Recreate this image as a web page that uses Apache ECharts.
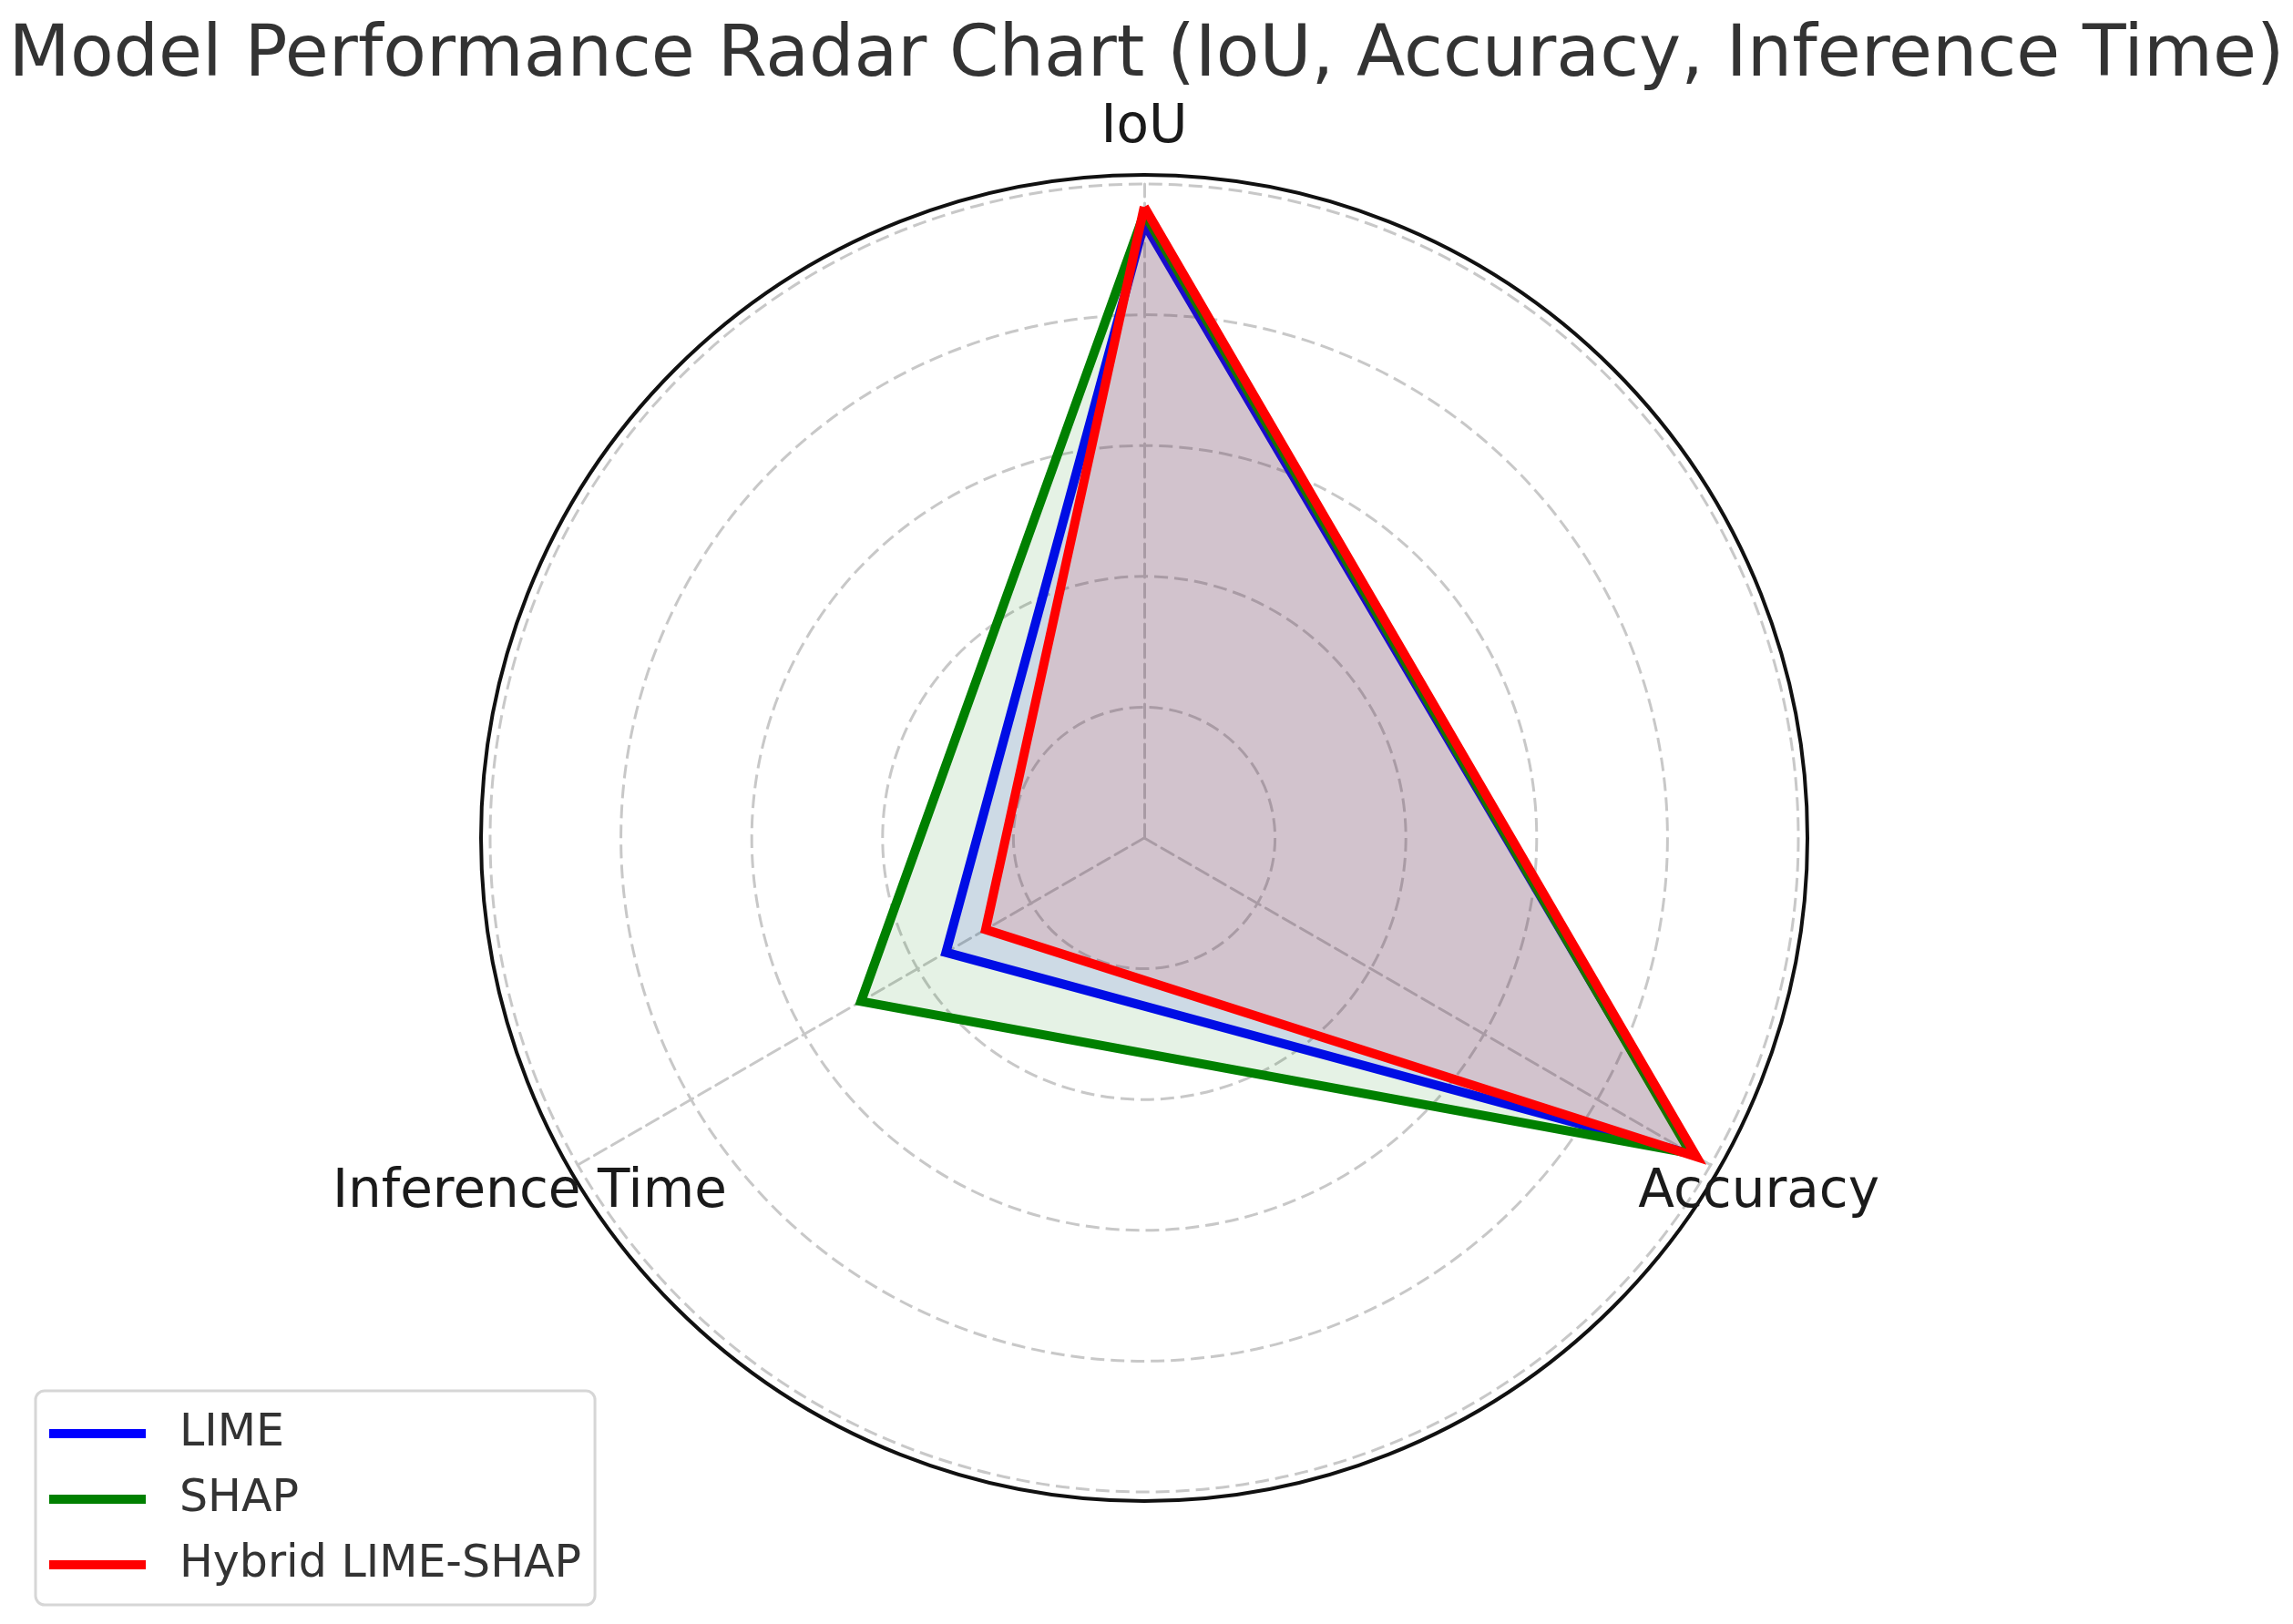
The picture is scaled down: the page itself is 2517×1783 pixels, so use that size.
<!DOCTYPE html>
<html>
<head>
<meta charset="utf-8">
<script src="https://cdn.jsdelivr.net/npm/echarts@6/dist/echarts.min.js"></script>
<style>
html,body{margin:0;padding:0;background:#fff;}
#chart{width:2517px;height:1783px;}
</style>
</head>
<body>
<div id="chart"></div>
<script>
// Indicators listed in the radar's drawing order (counter-clockwise from the top)
const indicators = ['IoU', 'Inference Time', 'Accuracy'];
const models = ['LIME', 'SHAP', 'Hybrid LIME-SHAP'];
// values in the same order as indicators: IoU, Inference Time, Accuracy
const lime = [0.94, 0.35, 0.968];
const shap = [0.955, 0.50, 0.965];
const hybrid = [0.965, 0.28, 0.975];
const colors = ['#0000ff', '#008000', '#ff0000'];
const seriesValues = [lime, shap, hybrid];

const FONT = 'DejaVu Sans';
const chart = echarts.init(document.getElementById('chart'), null, {renderer: 'canvas'});

const option = {
  backgroundColor: '#ffffff',
  animation: false,
  title: {
    text: 'Model Performance Radar Chart (IoU, Accuracy, Inference Time)',
    left: 'center',
    top: 19,
    textStyle: {fontFamily: FONT, fontSize: 78, fontWeight: 'normal', color: '#333333'}
  },
  legend: {
    orient: 'vertical',
    left: 39,
    bottom: 21,
    data: models,
    icon: 'rect',
    itemWidth: 106,
    itemHeight: 10,
    itemGap: 12,
    padding: [17, 15, 14, 15],
    borderColor: '#d6d6d6',
    borderWidth: 3,
    borderRadius: 10,
    backgroundColor: '#ffffff',
    textStyle: {fontFamily: FONT, fontSize: 49, color: '#333333', lineHeight: 60, padding: [0, 0, 0, 32]}
  },
  radar: [
    {
      center: [1256, 920],
      radius: 718,
      startAngle: 90,
      shape: 'circle',
      splitNumber: 5,
      nameGap: 61,
      indicator: indicators.map(n => ({name: n, min: 0, max: 1})),
      axisName: {fontFamily: FONT, fontSize: 58, color: '#1a1a1a', align: 'center', verticalAlign: 'middle'},
      axisLine: {lineStyle: {color: '#c8c8c8', width: 3, type: [15, 7]}},
      splitLine: {lineStyle: {color: '#c8c8c8', width: 3, type: [15, 7]}},
      splitArea: {show: false},
      axisTick: {show: false},
      axisLabel: {show: false},
      z: 1
    },
    {
      center: [1256, 920],
      radius: 728,
      startAngle: 90,
      shape: 'circle',
      splitNumber: 1,
      indicator: indicators.map(n => ({name: '', min: 0, max: 1})),
      axisName: {show: false},
      axisLine: {show: false},
      splitLine: {lineStyle: {color: '#111111', width: 4}},
      splitArea: {show: false},
      axisTick: {show: false},
      axisLabel: {show: false},
      z: 1
    }
  ],
  series: models.map((m, i) => ({
    type: 'radar',
    radarIndex: 0,
    name: m,
    symbol: 'none',
    z: 3 + i,
    itemStyle: {color: colors[i]},
    lineStyle: {color: colors[i], width: 10, join: 'miter'},
    areaStyle: {color: colors[i], opacity: 0.1},
    data: [{name: m, value: seriesValues[i]}]
  }))
};
chart.setOption(option);
</script>
</body>
</html>
